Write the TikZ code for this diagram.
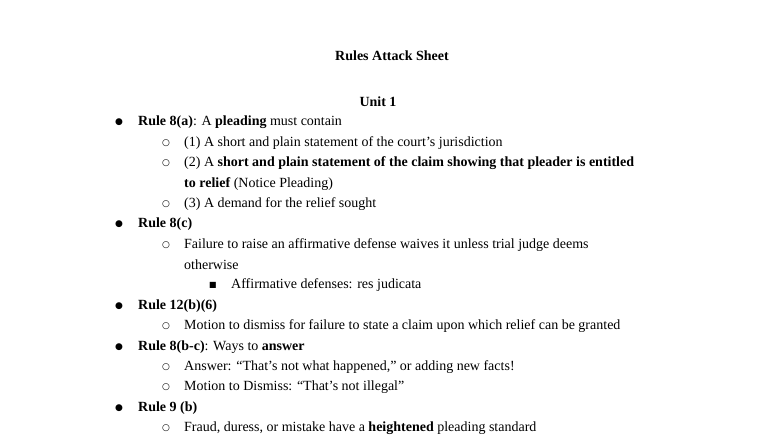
\documentclass[tikz,border=0pt]{standalone}
\usepackage{fontspec}
\setmainfont{Liberation Serif}
\newfontfamily\symf{DejaVu Sans}
\begin{document}
\begin{tikzpicture}[x=1pt,y=-1pt,
  every node/.style={inner sep=0pt,font=\fontsize{14}{16}\selectfont},
  txt/.style={anchor=west},
  bl/.style={font=\symf\fontsize{9}{10}\selectfont},
  sq/.style={font=\symf\fontsize{8}{9}\selectfont}]
\useasboundingbox (0,0) rectangle (784,441);
\node (t) at (392,56) {\textbf{Rules Attack Sheet}};
\node (u) at (378,102) {\textbf{Unit 1}};
% level 1
\foreach \y/\n in {122/a,224/b,306/c,347/d,408/e} \node[bl] (b\n) at (119,\y) {●};
\foreach \y/\n in {143/a,163/b,204/c,245/d,326/e,367/f,387/g,428/h} \node[bl] (s\n) at (166,\y) {○};
\node[sq] (q1) at (213,285) {■};
\node[txt] (l1) at (138,122) {\textbf{Rule 8(a)}: A \textbf{pleading} must contain};
\node[txt] (l2) at (184,143) {(1) A short and plain statement of the court’s jurisdiction};
\node[txt] (l3) at (184,163) {(2) A \textbf{short and plain statement of the claim showing that pleader is entitled}};
\node[txt] (l4) at (184,184) {\textbf{to relief} (Notice Pleading)};
\node[txt] (l5) at (184,204) {(3) A demand for the relief sought};
\node[txt] (l6) at (138,224) {\textbf{Rule 8(c)}};
\node[txt] (l7) at (184,245) {Failure to raise an affirmative defense waives it unless trial judge deems};
\node[txt] (l8) at (184,265) {otherwise};
\node[txt] (l9) at (231,285) {Affirmative defenses: res judicata};
\node[txt] (l10) at (138,306) {\textbf{Rule 12(b)(6)}};
\node[txt] (l11) at (184,326) {Motion to dismiss for failure to state a claim upon which relief can be granted};
\node[txt] (l12) at (138,347) {\textbf{Rule 8(b-c)}: Ways to \textbf{answer}};
\node[txt] (l13) at (184,367) {Answer: “That’s not what happened,” or adding new facts!};
\node[txt] (l14) at (184,387) {Motion to Dismiss: “That’s not illegal”};
\node[txt] (l15) at (138,408) {\textbf{Rule 9 (b)}};
\node[txt] (l16) at (184,428) {Fraud, duress, or mistake have a \textbf{heightened} pleading standard};
\end{tikzpicture}
\end{document}
